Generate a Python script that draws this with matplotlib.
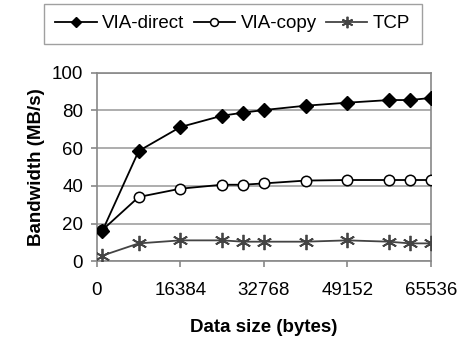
import matplotlib.pyplot as plt

plt.rcParams['font.family'] = ['Liberation Sans', 'DejaVu Sans']

# data
sizes = [1024, 8192, 16384, 24576, 28672, 32768, 40960, 49152, 57344, 61440, 65536]
via_direct = [15.9, 58.5, 71.2, 77.2, 78.8, 80.2, 82.5, 84.1, 85.5, 85.5, 86.6]
via_copy = [16.5, 34.1, 38.5, 40.6, 40.6, 41.3, 42.8, 43.1, 43.1, 43.1, 43.1]
tcp = [3.0, 9.5, 11.1, 11.1, 10.4, 10.4, 10.4, 11.1, 10.4, 9.5, 9.5]

xticks = [0, 16384, 32768, 49152, 65536]
yticks = [0, 20, 40, 60, 80, 100]

fs = 13.5

fig = plt.figure(figsize=(4.74, 3.58), dpi=100)
ax = fig.add_axes([97 / 474, 1 - 261.3 / 358, 333.7 / 474, 188.6 / 358])

ax.plot(sizes, via_direct, color='black', lw=1.3, marker='D', markersize=7,
        markerfacecolor='black', label='VIA-direct', zorder=4)
ax.plot(sizes, via_copy, color='black', lw=1.3, marker='o', markersize=7.5,
        markerfacecolor='white', markeredgewidth=1.1, label='VIA-copy', zorder=3)
ax.plot(sizes, tcp, color='#444444', lw=1.3, marker=(6, 2, 0), markersize=11,
        markeredgewidth=1.3, label='TCP', zorder=3)

ax.set_xlim(0, 65536)
ax.set_ylim(0, 100)
ax.set_xticks(xticks)
ax.set_yticks(yticks)
ax.yaxis.grid(True, color='#a0a0a0', lw=1.2)
ax.set_axisbelow(True)
for s in ax.spines.values():
    s.set_color('#888888')
    s.set_linewidth(1.2)
ax.tick_params(colors='#888888', labelcolor='black', labelsize=fs,
               length=4, width=1.2)
ax.tick_params(axis='x', pad=11)
ax.tick_params(axis='y', pad=6)

ax.set_xlabel('Data size (bytes)', fontsize=fs, fontweight='bold', labelpad=14)
ax.set_ylabel('Bandwidth (MB/s)', fontsize=fs, fontweight='bold', labelpad=5)

leg = fig.legend(loc='upper left', bbox_to_anchor=(44 / 474, 1 - 4 / 358),
                 ncol=3, fontsize=fs, frameon=True, fancybox=False,
                 edgecolor='#888888', handlelength=2.2, columnspacing=0.5,
                 handletextpad=0.3, borderpad=0.6, borderaxespad=0,
                 markerscale=0.75)
leg.get_frame().set_linewidth(1.0)

fig.savefig('out.png', dpi=100)
